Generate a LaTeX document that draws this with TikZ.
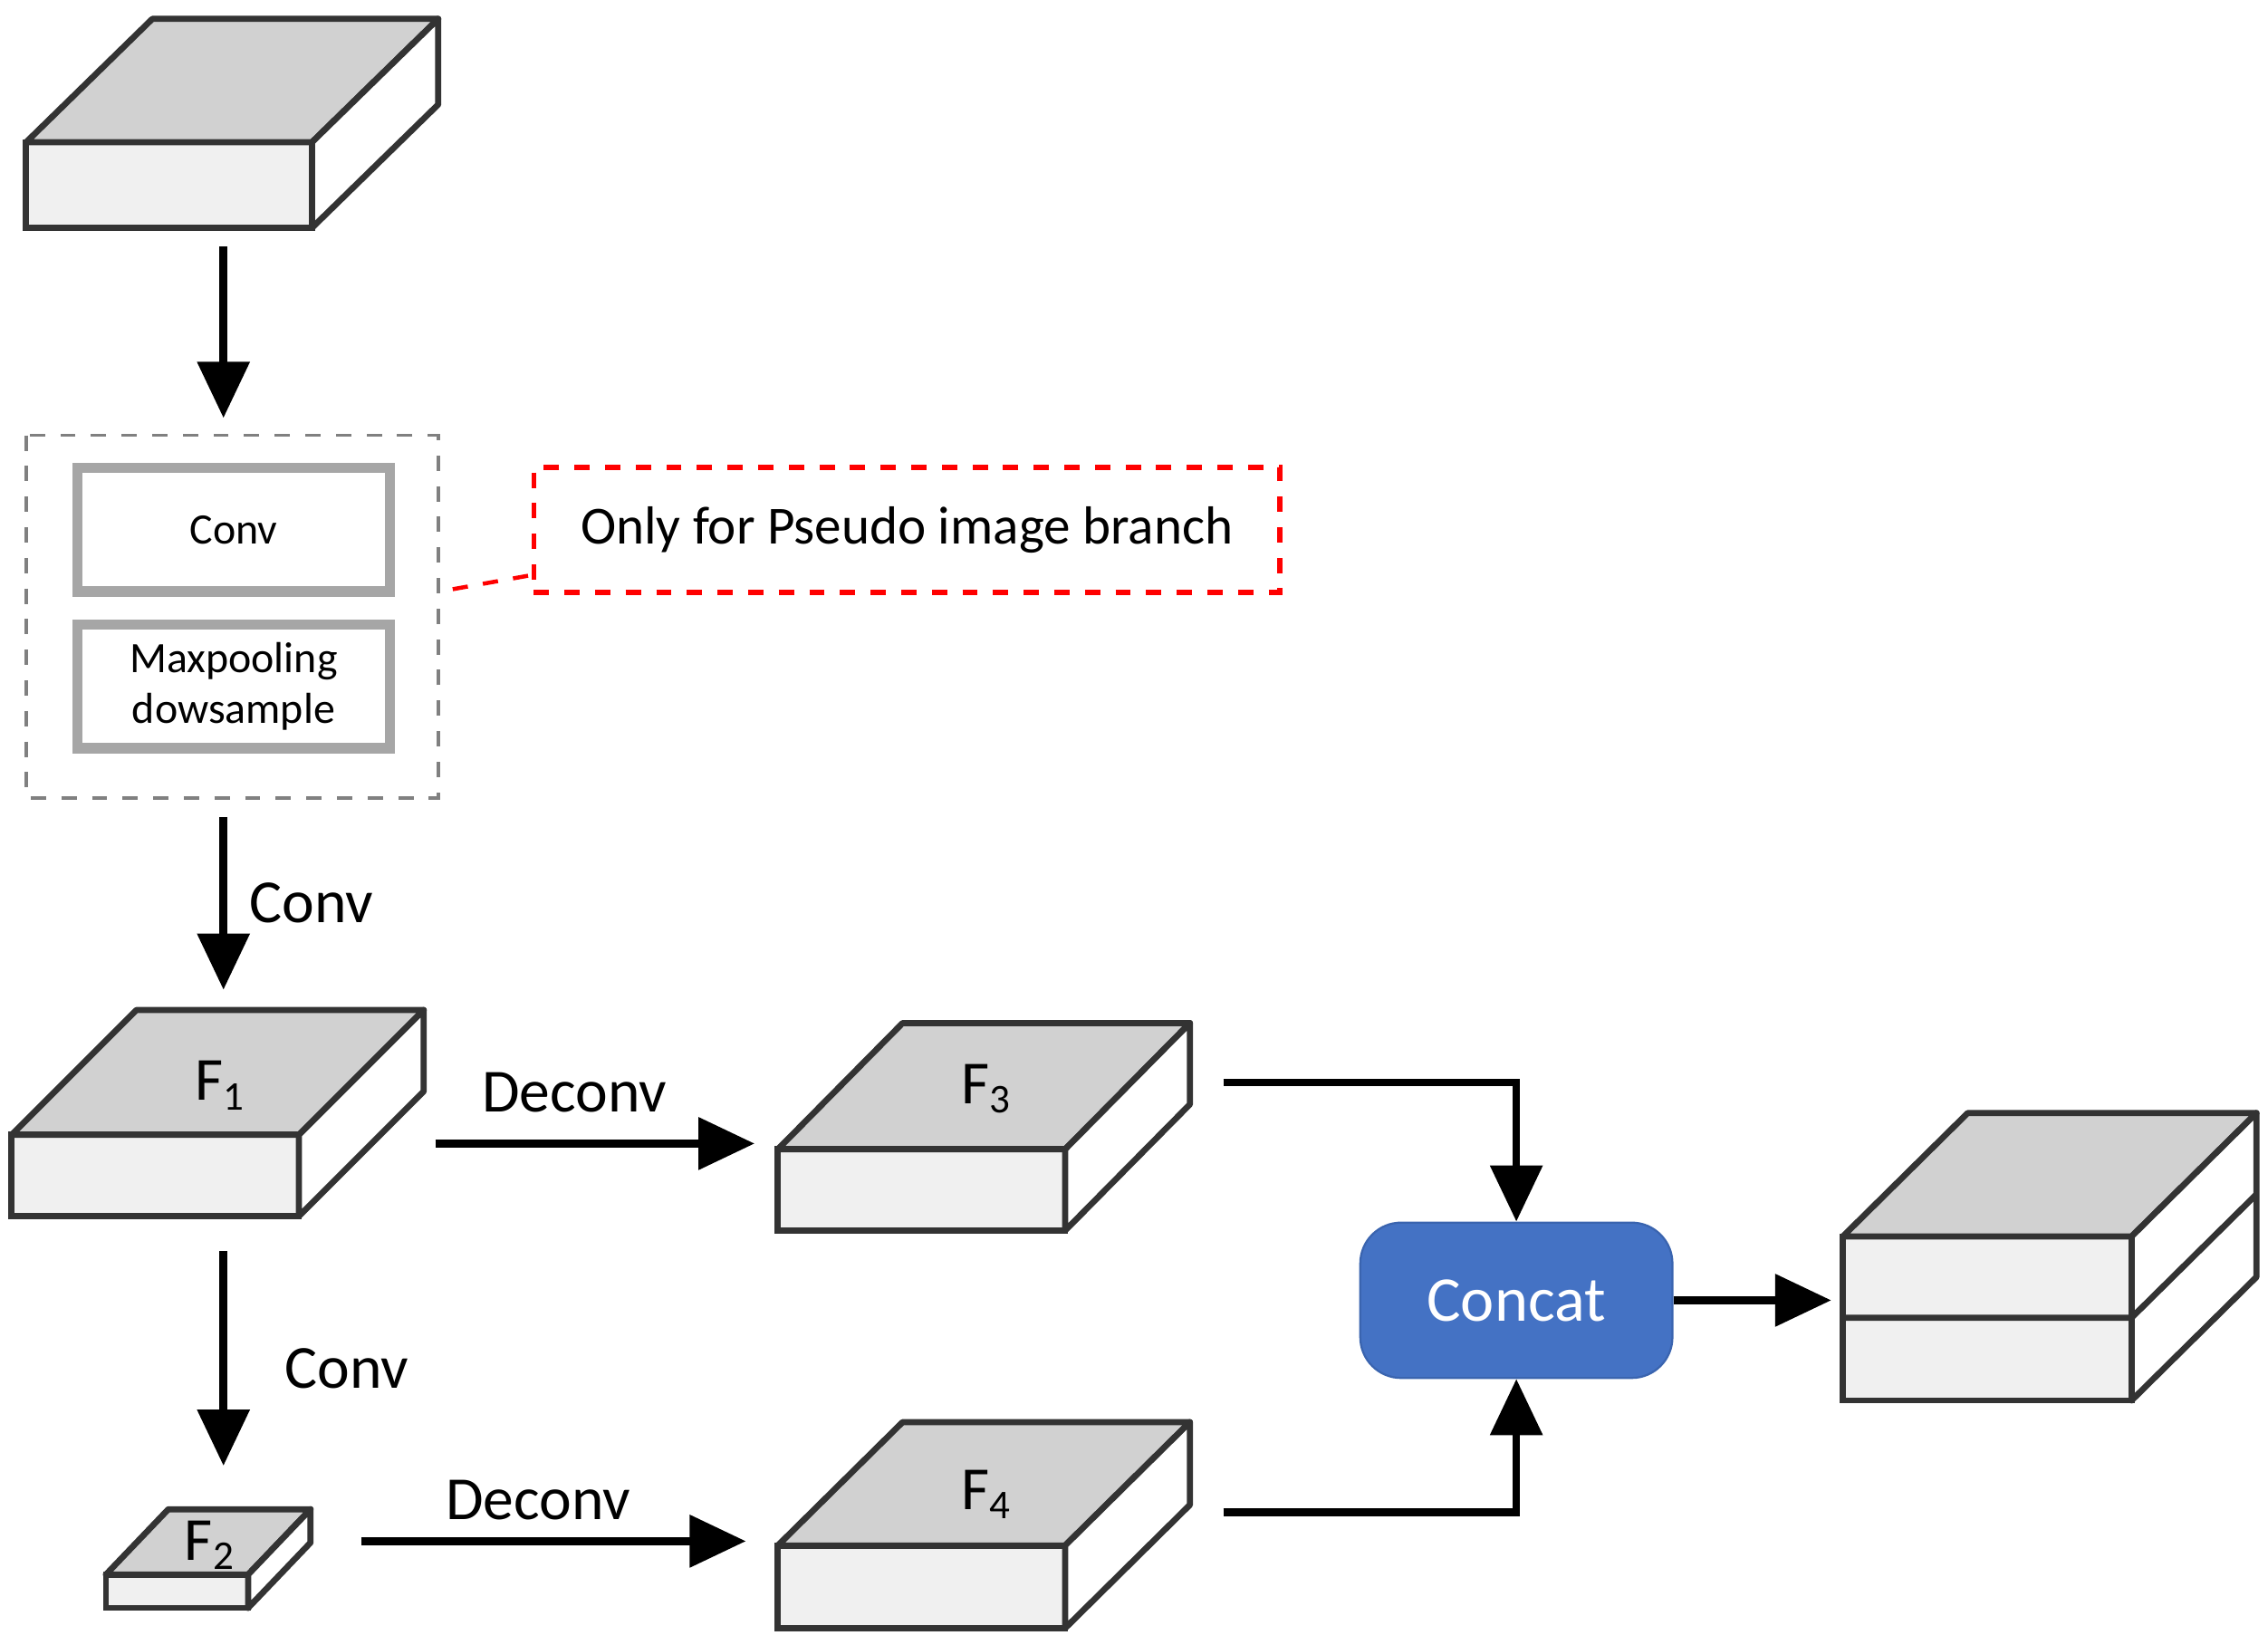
\documentclass[tikz,border=0pt]{standalone}
\usepackage{fontspec}
\setmainfont{Carlito}
\usetikzlibrary{arrows.meta,calc}
\newcommand\mycub[6]{%
  \fill[cubfront] (#1,#2) rectangle (#3,#4);
  \filldraw[cubtop] (#1,#2) -- ++(#5,#6) -- ($(#3,#2)+(#5,#6)$) -- (#3,#2) -- cycle;
  \filldraw[cubside] (#3,#2) -- ++(#5,#6) -- ($(#3,#4)+(#5,#6)$) -- (#3,#4) -- cycle;
  \draw[cubline] (#1,#2) rectangle (#3,#4);}
\begin{document}
\begin{tikzpicture}[x=0.01cm,y=-0.01cm,
  cubline/.style={draw=black!80,line width=1.2pt},
  cubfront/.style={fill=black!6},
  cubtop/.style={fill=black!18,draw=black!80,line width=1.2pt,line join=round},
  cubside/.style={fill=white,draw=black!80,line width=1.2pt,line join=round},
  arr/.style={line width=1.5pt,-{Triangle[length=11pt,width=10pt]}},
  lab/.style={font=\fontsize{12}{14}\selectfont},
  inner/.style={draw=black!35,line width=2pt,font=\fontsize{8.5}{10}\selectfont,align=center,inner sep=0pt,minimum width=2.15cm,minimum height=0.85cm}]
\useasboundingbox (0,0) rectangle (1563,1133);
\mycub{18}{98}{215}{157}{87}{-85}
\mycub{8}{782}{206}{838}{86}{-86}
\mycub{536}{792}{734}{848}{86}{-87}
\mycub{536}{1065}{734}{1122}{86}{-85}
\mycub{73}{1085}{171}{1108}{43}{-45}
\mycub{1270}{852}{1469}{965}{86}{-85}
\draw[cubline] (1270,908) -- (1469,908) -- ++(86,-85);
\node[lab] (f1) at (152,748) {F\textsubscript{1}};
\node[lab] (f3) at (680,750) {F\textsubscript{3}};
\node[lab] (f4) at (680,1030) {F\textsubscript{4}};
\node[lab] (f2) at (145,1065) {F\textsubscript{2}};
\draw[black!50,dashed,line width=0.6pt] (18,300) rectangle (302,550);
\node[inner] (conv) at (161,365) {Conv};
\node[inner] (mp) at (161,473) {Maxpooling\\dowsample};
\node[draw=red,dashed,line width=1pt,minimum width=5.14cm,minimum height=0.86cm,font=\fontsize{10.5}{12}\selectfont] (note) at (625,365) {Only for Pseudo image branch};
\draw[red,dashed,line width=0.8pt] (312,406) -- (368,396);
\coordinate (a1) at (154,170); \coordinate (a2) at (154,288);
\draw[arr] (a1) -- (a2);
\coordinate (b1) at (154,563); \coordinate (b2) at (154,682);
\draw[arr] (b1) -- (b2) node[lab,midway,right=1pt] {Conv};
\coordinate (c1) at (154,862); \coordinate (c2) at (154,1010);
\draw[arr] (c1) -- (c2) node[lab,midway,right=8pt,yshift=-2pt] {Conv};
\coordinate (d1) at (300,788); \coordinate (d2) at (520,788);
\draw[arr] (d1) -- (d2) node[lab,midway,above=2pt,xshift=-4pt] {Deconv};
\coordinate (e1) at (249,1062); \coordinate (e2) at (514,1062);
\draw[arr] (e1) -- (e2) node[lab,midway,above=0pt,xshift=-3pt] {Deconv};
\node[fill={rgb,255:red,68;green,114;blue,196},draw={rgb,255:red,58;green,100;blue,175},rounded corners=8pt,minimum width=2.15cm,minimum height=1.07cm,text=white,font=\fontsize{12.5}{14}\selectfont] (cc) at (1045,896) {Concat};
\coordinate (g1) at (843,746);
\draw[arr] (g1) -| (cc.north);
\coordinate (h1) at (843,1042);
\draw[arr] (h1) -| (cc.south);
\coordinate (o) at (1262,896);
\draw[arr] (cc.east) -- (o);
\end{tikzpicture}
\end{document}
